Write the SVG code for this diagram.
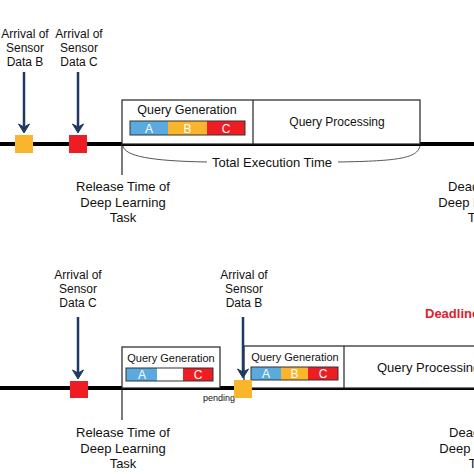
<svg xmlns="http://www.w3.org/2000/svg" width="474" height="474" viewBox="0 0 474 474">
<defs>
<style>
text{font-family:"Liberation Sans",Arial,sans-serif;fill:#111}
.lbl{font-size:12px;text-anchor:middle}
.big{font-size:13px;text-anchor:middle}
.qg{font-size:12.5px;text-anchor:middle}
.qs{font-size:11px;text-anchor:middle}
.seg{font-size:12px;text-anchor:middle;fill:#fff}
.box{fill:#fff;stroke:#222;stroke-width:1.2}
.bar{stroke:#333;stroke-width:1}
.tl{stroke:#000;stroke-width:4}
.arr{stroke:#1F3864;stroke-width:2.5;fill:none}
.head{fill:#1F3864;stroke:#1F3864;stroke-width:1}
.thin{stroke:#222;stroke-width:1.2;fill:none}
</style>
</defs>
<rect width="474" height="474" fill="#fff"/>

<g id="top-timeline">
<line class="tl" x1="0" y1="144" x2="474" y2="144"/>
</g>

<g id="top-arrival-b">
<text class="lbl" x="25" y="38">Arrival of</text>
<text class="lbl" x="25" y="52">Sensor</text>
<text class="lbl" x="25" y="66">Data B</text>
</g>
<g id="top-arrival-c">
<text class="lbl" x="79" y="38">Arrival of</text>
<text class="lbl" x="79" y="52">Sensor</text>
<text class="lbl" x="79" y="66">Data C</text>
</g>

<g id="top-query-box">
<rect class="box" x="122" y="100" width="298" height="44"/>
<line class="thin" x1="253" y1="100" x2="253" y2="144"/>
<text class="qg" x="187" y="114">Query Generation</text>
<rect x="130" y="121" width="38" height="14" fill="#5AAAE0"/>
<rect x="168" y="121" width="39" height="14" fill="#F9B52B"/>
<rect x="207" y="121" width="38" height="14" fill="#EE1D23"/>
<rect class="bar" x="130" y="121" width="115" height="14" fill="none"/>
<text class="seg" x="149" y="132.5">A</text>
<text class="seg" x="187.5" y="132.5">B</text>
<text class="seg" x="226" y="132.5">C</text>
<text style="font-size:12px;text-anchor:middle" x="337" y="126">Query Processing</text>
</g>

<g id="top-release">
<line class="thin" x1="122" y1="144" x2="122" y2="175"/>
<text class="big" x="123" y="191">Release Time of</text>
<text class="big" x="123" y="207">Deep Learning</text>
<text class="big" x="123" y="222">Task</text>
</g>

<g id="top-total">
<path d="M123,146 C125,156 150,161 207,162" stroke="#555" stroke-width="1" fill="none"/>
<path d="M338,162 C400,161 417,158 420,146" stroke="#555" stroke-width="1" fill="none"/>
<text class="big" x="272" y="167">Total Execution Time</text>
</g>

<g id="top-deadline">
<text class="big" x="481" y="191">Deadline of</text>
<text class="big" x="481" y="207">Deep Learning</text>
<text class="big" x="481" y="222">Task</text>
</g>

<g id="bottom-timeline">
<line class="tl" x1="0" y1="388" x2="474" y2="388"/>
</g>

<g id="bottom-arrival-c">
<text class="lbl" x="78" y="279">Arrival of</text>
<text class="lbl" x="78" y="293">Sensor</text>
<text class="lbl" x="78" y="307">Data C</text>
</g>

<g id="bottom-query-box-1">
<rect class="box" x="122" y="347" width="98" height="41"/>
<text class="qs" x="171" y="362">Query Generation</text>
<rect x="126" y="368" width="31" height="13" fill="#5AAAE0"/>
<rect x="157" y="368" width="26" height="13" fill="#fff"/>
<rect x="183" y="368" width="30" height="13" fill="#EE1D23"/>
<rect class="bar" x="126" y="368" width="87" height="13" fill="none"/>
<text class="seg" x="142" y="379">A</text>
<text class="seg" x="198" y="379">C</text>
</g>

<g id="bottom-release">
<line class="thin" x1="122" y1="388" x2="122" y2="420"/>
<text class="big" x="123" y="437">Release Time of</text>
<text class="big" x="123" y="453">Deep Learning</text>
<text class="big" x="123" y="468">Task</text>
</g>

<g id="bottom-arrival-b">
<text class="lbl" x="244" y="279">Arrival of</text>
<text class="lbl" x="244" y="293">Sensor</text>
<text class="lbl" x="244" y="307">Data B</text>
</g>

<g id="bottom-query-box-2">
<rect class="box" x="244" y="346" width="240" height="42"/>
<line class="thin" x1="344" y1="346" x2="344" y2="388"/>
<text class="qs" x="295" y="361">Query Generation</text>
<rect x="251" y="367" width="30" height="13" fill="#5AAAE0"/>
<rect x="281" y="367" width="27" height="13" fill="#F9B52B"/>
<rect x="308" y="367" width="30" height="13" fill="#EE1D23"/>
<rect class="bar" x="251" y="367" width="87" height="13" fill="none"/>
<text class="seg" x="266" y="378">A</text>
<text class="seg" x="294.5" y="378">B</text>
<text class="seg" x="323" y="378">C</text>
<text style="font-size:13px" x="377" y="372">Query Processing</text>
</g>

<g id="bottom-pending">
<text style="font-size:9px;text-anchor:middle" x="219" y="401">pending</text>
</g>

<g id="bottom-deadline-miss">
<text style="font-size:13px;font-weight:bold;fill:#E0202B" x="425" y="318">Deadline</text>
</g>

<g id="bottom-deadline">
<text class="big" x="482" y="437">Deadline of</text>
<text class="big" x="482" y="453">Deep Learning</text>
<text class="big" x="482" y="468">Task</text>
</g>

<g id="squares">
<rect x="15" y="135" width="18" height="18" fill="#F9B52B"/>
<rect x="69" y="135" width="18" height="18" fill="#EE1D23"/>
<rect x="70" y="381" width="18" height="17" fill="#EE1D23"/>
<rect x="234" y="380" width="18" height="18" fill="#F9B52B"/>
</g>

<g id="connectors">
<line class="arr" x1="24" y1="72" x2="24" y2="128"/>
<path class="head" d="M18.5,124 L24,133 L29.5,124 L24,127 Z"/>
<line class="arr" x1="78" y1="72" x2="78" y2="128"/>
<path class="head" d="M72.5,124 L78,133 L83.5,124 L78,127 Z"/>
<line class="arr" x1="78" y1="317" x2="78" y2="374"/>
<path class="head" d="M72.5,370 L78,379 L83.5,370 L78,373 Z"/>
<line class="arr" x1="243" y1="317" x2="243" y2="373"/>
<path class="head" d="M237.5,369 L243,378 L248.5,369 L243,372 Z"/>
</g>
</svg>
